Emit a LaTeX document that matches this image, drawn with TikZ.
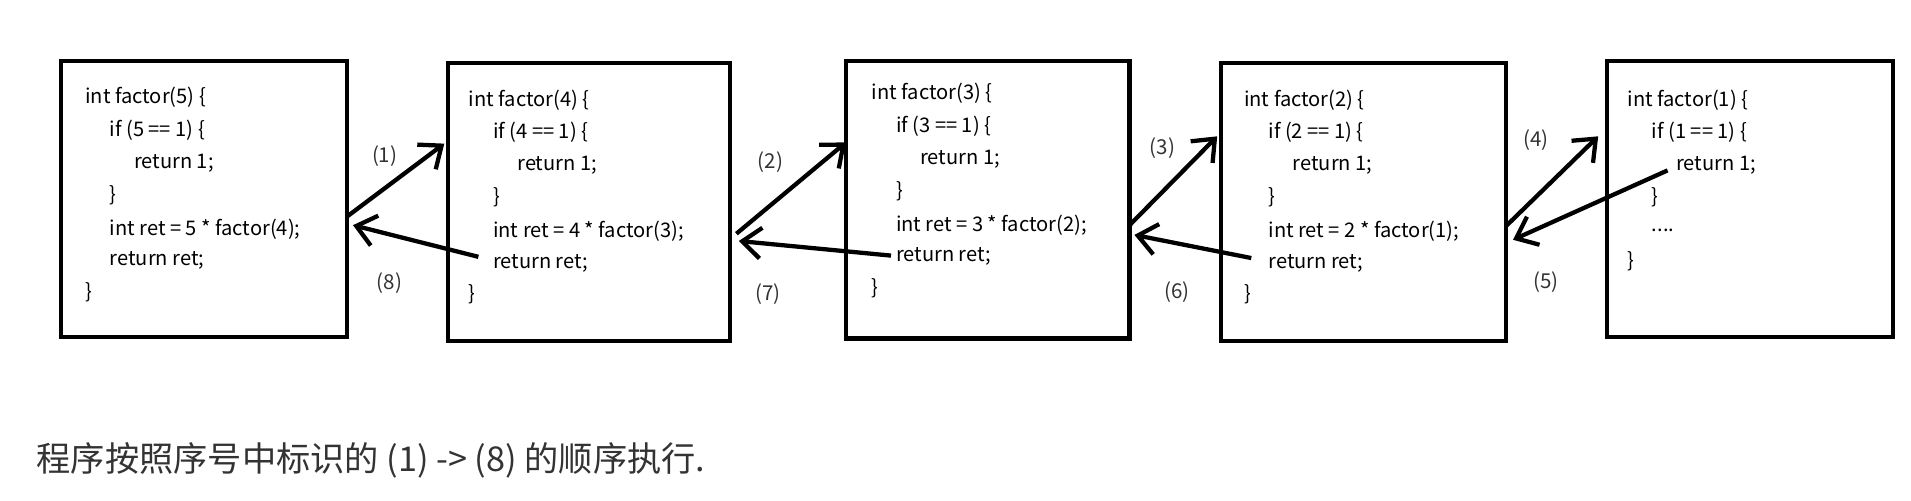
\documentclass[tikz,border=0pt]{standalone}
\usepackage{fontspec}
\setmainfont{Noto Sans CJK SC}
\usetikzlibrary{arrows.meta}
\tikzset{
  frame/.style={draw,line width=5pt},
  codeline/.style={anchor=west,inner sep=0pt,font=\fontsize{23.5}{26}\selectfont},
  callarrow/.style={line width=5pt,-{Straight Barb[length=22pt,width=36pt,line width=5pt]}},
  steplabel/.style={font=\fontsize{24}{28}\selectfont,text=black!80}
}
\begin{document}
\begin{tikzpicture}[x=0.05cm,y=-0.05cm]
\useasboundingbox (0,0) rectangle (1570,411);
% Rahmen
\draw[frame] (50,50) rectangle (285,277);
\draw[frame] (368,52) rectangle (600,280);
\draw[frame] (695,50) rectangle (928,278);
\draw[frame] (1003,52) rectangle (1237,280);
\draw[frame] (1320,50) rectangle (1555,277);
% Code
\foreach \n/\x/\y in {5/70/80,4/385/82,3/716/77,2/1022/82} {
  \node[codeline] (head\n) at (\x,\y) {int factor(\n) \{};
  \node[codeline] (if\n) at (\x+20,\y+27) {if (\n\ == 1) \{};
  \node[codeline] (one\n) at (\x+40,\y+54) {return 1;};
  \node[codeline] (close\n) at (\x+20,\y+80) {\}};
  \pgfmathtruncatemacro\m{\n-1}
  \node[codeline] (ret\n) at (\x+20,\y+108) {int ret = \n\ * factor(\m);};
  \node[codeline] (back\n) at (\x+20,\y+134) {return ret;};
  \node[codeline] (end\n) at (\x,\y+160) {\}};
}
\node[codeline] (head1) at (1337,82) {int factor(1) \{};
\node[codeline] (if1) at (1357,109) {if (1 == 1) \{};
\node[codeline] (one1) at (1377,136) {return 1;};
\node[codeline] (close1) at (1357,162) {\}};
\node[codeline] (dots1) at (1357,189) {....};
\node[codeline] (end1) at (1337,215) {\}};
% Pfeile
\coordinate (a1s) at (285,178); \coordinate (a1e) at (365,118);
\coordinate (a2s) at (605,192); \coordinate (a2e) at (695,117);
\coordinate (a3s) at (928,185); \coordinate (a3e) at (1000,112);
\coordinate (a4s) at (1237,186); \coordinate (a4e) at (1313,112);
\coordinate (a5s) at (1370,140); \coordinate (a5e) at (1243,197);
\coordinate (a6s) at (1028,212); \coordinate (a6e) at (932,193);
\coordinate (a7s) at (732,210); \coordinate (a7e) at (607,198);
\coordinate (a8s) at (393,211); \coordinate (a8e) at (290,185);
\foreach \i in {1,...,8} \draw[callarrow] (a\i s) -- (a\i e);
\node[steplabel] (l1) at (316,128) {(1)};
\node[steplabel] (l2) at (633,133) {(2)};
\node[steplabel] (l3) at (955,122) {(3)};
\node[steplabel] (l4) at (1262,115) {(4)};
\node[steplabel] (l5) at (1270,232) {(5)};
\node[steplabel] (l6) at (967,240) {(6)};
\node[steplabel] (l7) at (631,242) {(7)};
\node[steplabel] (l8) at (320,233) {(8)};
% Unterschrift
\node[anchor=west,inner sep=0pt,font=\fontsize{40}{44}\selectfont,text=black!80] (caption) at (30,378) {程序按照序号中标识的 (1) -> (8) 的顺序执行.};
\end{tikzpicture}
\end{document}
